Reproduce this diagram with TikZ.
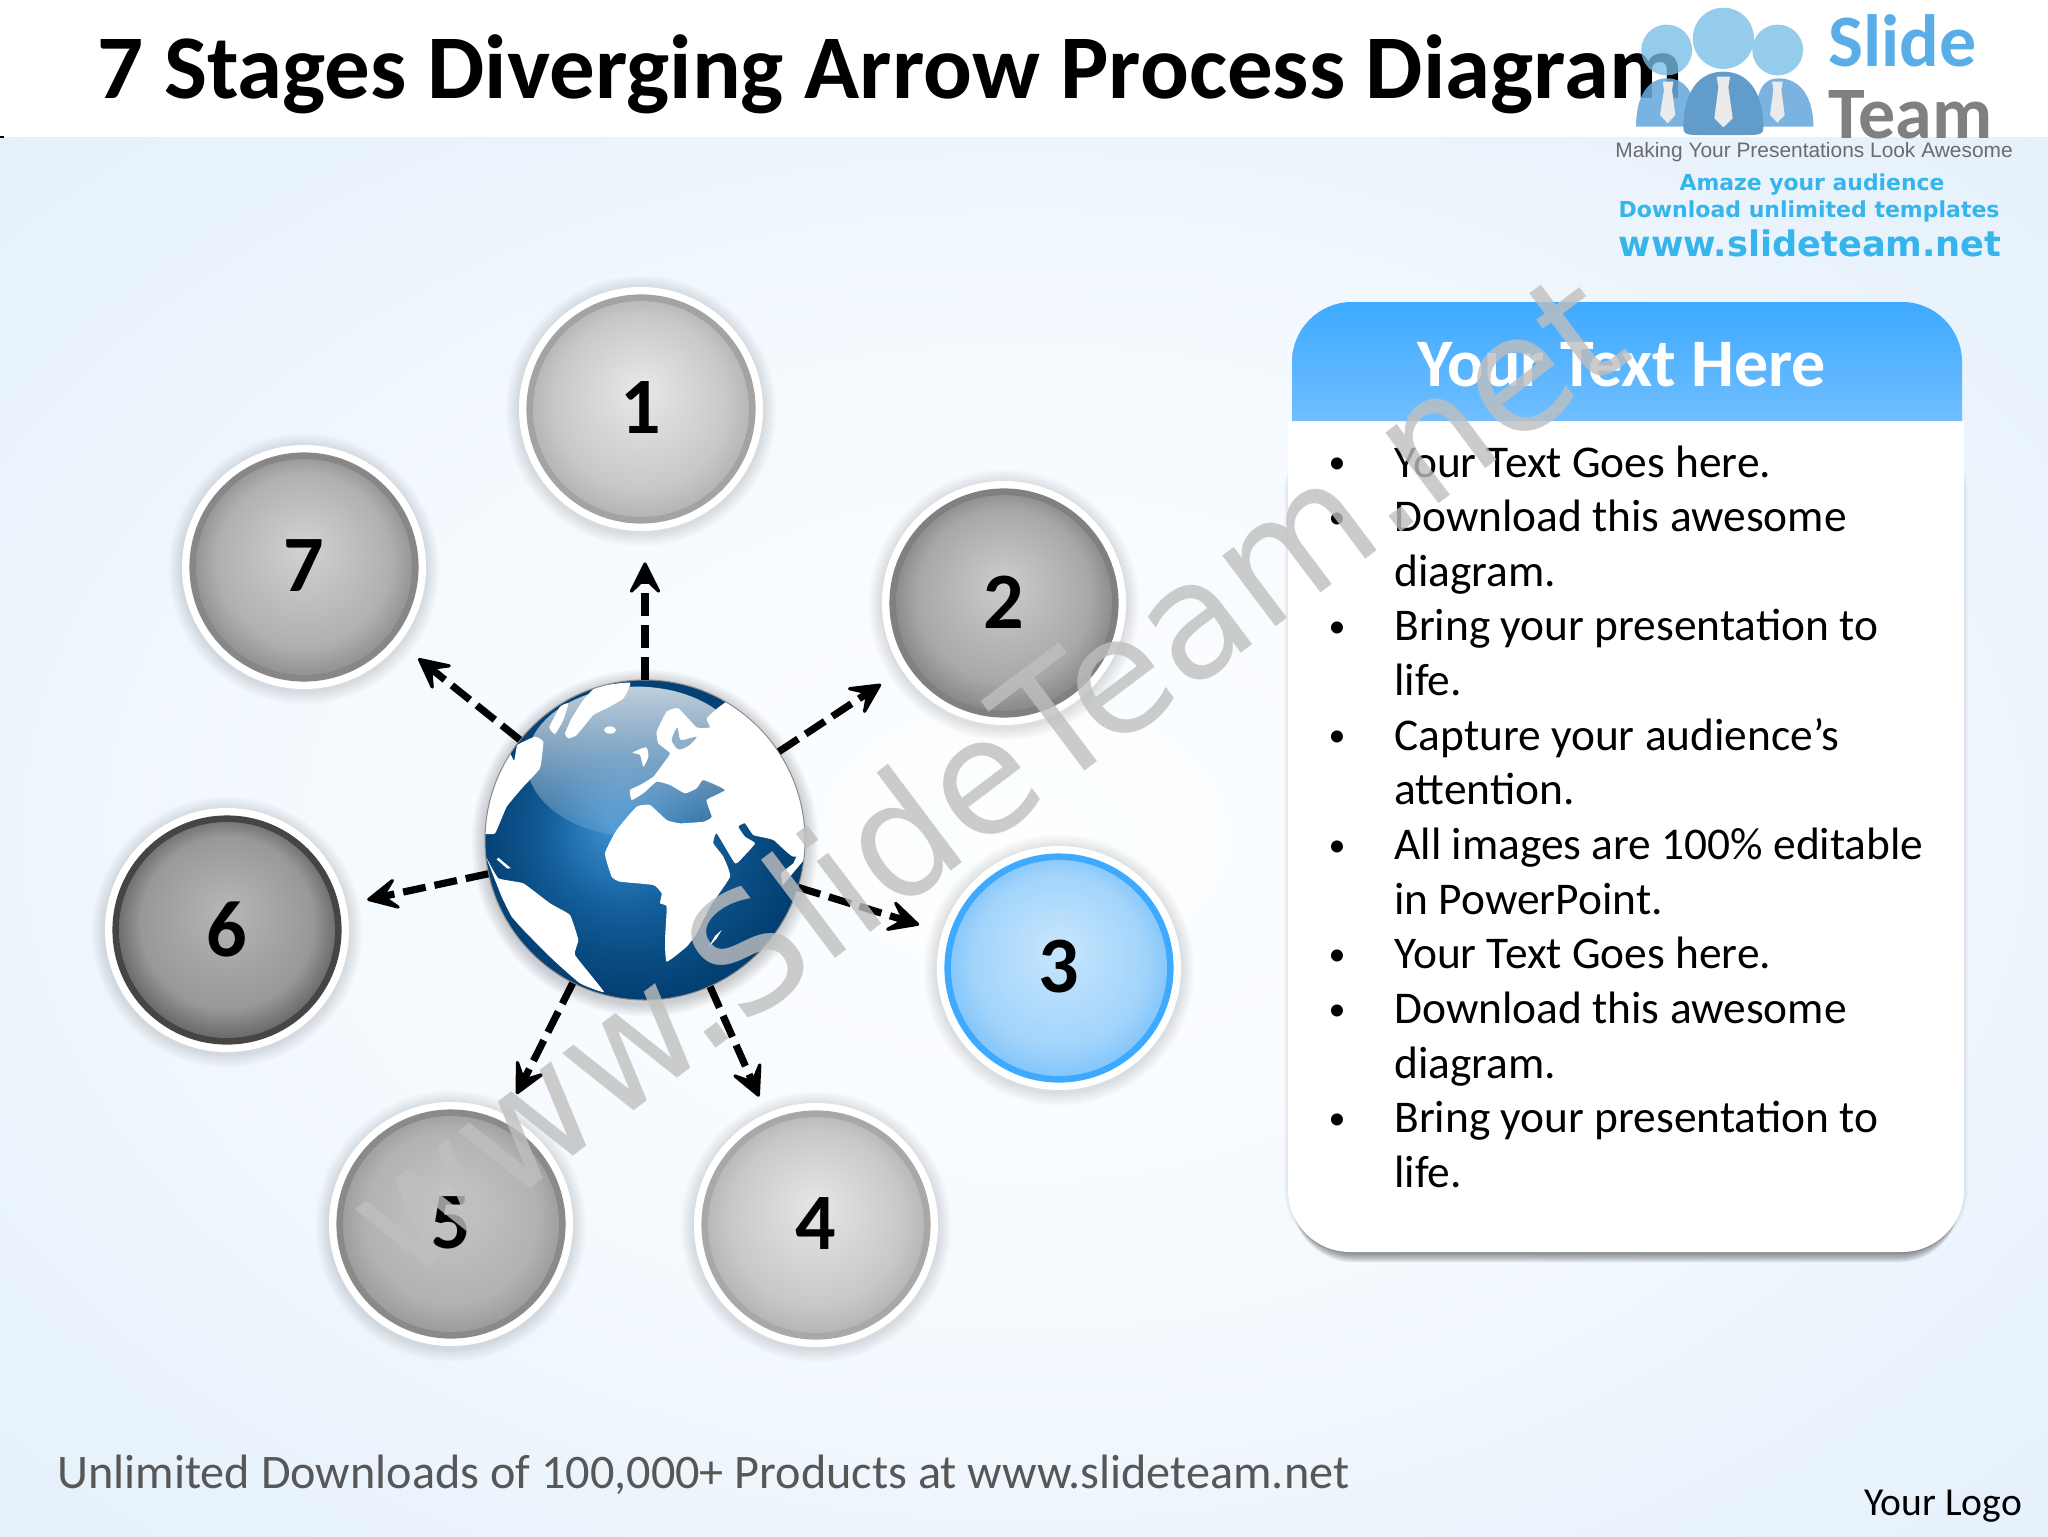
\documentclass[tikz,border=0pt]{standalone}
\usepackage{fontspec}
\usepackage{graphicx}
\setmainfont{Carlito}
\newfontfamily\djv{DejaVu Sans}
\newfontfamily\lib{Liberation Sans}
\usetikzlibrary{arrows.meta,fadings}
\newcommand{\fsz}[1]{\fontsize{#1}{#1}\selectfont}
\tikzfading[name=glossf, top color=transparent!25, bottom color=transparent!90]
\definecolor{bga}{HTML}{FCFEFF}\definecolor{bgb}{HTML}{F9FCFF}\definecolor{bgc}{HTML}{F3F9FE}\definecolor{bgd}{HTML}{EDF5FC}\definecolor{bge}{HTML}{E4F0FB}
\pgfdeclareradialshading{bgshade}{\pgfpoint{0bp}{0bp}}{color(0bp)=(bga);color(10bp)=(bgb);color(19bp)=(bgc);color(25bp)=(bgd);color(36bp)=(bge)}
\newcommand{\mkshade}[4]{%
 \definecolor{s#1a}{HTML}{#2}\definecolor{s#1b}{HTML}{#3}\definecolor{s#1c}{HTML}{#4}%
 \pgfdeclareradialshading{stage#1}{\pgfpoint{0bp}{5bp}}{color(0bp)=(s#1a);color(20bp)=(s#1b);color(30bp)=(s#1c)}}
\mkshade{1}{E8E8E8}{C8C8C8}{A6A6A6}
\mkshade{2}{CCCCCC}{A8A8A8}{727272}
\mkshade{3}{C8E6FD}{A2D4FB}{6DBBF9}
\mkshade{4}{E6E6E6}{C8C8C8}{A8A8A8}
\mkshade{5}{C6C6C6}{B2B2B2}{8C8C8C}
\mkshade{6}{B6B6B6}{989898}{474747}
\mkshade{7}{D2D2D2}{B0B0B0}{7C7C7C}
\definecolor{ga}{HTML}{3A8ED0}\definecolor{gb}{HTML}{2878B8}\definecolor{gc}{HTML}{145F9C}\definecolor{gd}{HTML}{0B4F86}\definecolor{ge}{HTML}{033F72}\definecolor{gf}{HTML}{003564}
\pgfdeclareradialshading{globesh}{\pgfpoint{-5bp}{2bp}}{color(0bp)=(ga);color(6bp)=(gb);color(12bp)=(gc);color(18bp)=(gd);color(25bp)=(ge);color(32bp)=(gf)}
\definecolor{hdtop}{HTML}{3EAAFF}\definecolor{hdbot}{HTML}{70BEFF}
\definecolor{logoblue}{HTML}{78BEE6}\definecolor{logobody}{HTML}{69A9DC}\definecolor{logotxt}{HTML}{5AAEE8}\definecolor{logocy}{HTML}{35B5EC}
\definecolor{balt}{HTML}{8FAFCB}
\definecolor{rima}{HTML}{A3A3A3}\definecolor{rimb}{HTML}{808080}\definecolor{rimd}{HTML}{A8A8A8}\definecolor{rime}{HTML}{8A8A8A}\definecolor{rimf}{HTML}{454545}\definecolor{rimg}{HTML}{878787}
\tikzset{
 stagedisc/.style={circle,fill=white,minimum size=122pt,inner sep=0pt},
 stagenum/.style={font=\fsz{40}\bfseries,inner sep=0pt,text=black},
 arr/.style={line width=3.6pt,dash pattern=on 11.5pt off 4.5pt,-{Stealth[length=19pt,width=19pt,inset=9pt,line width=1.6pt,round]},black},
 bodyline/.style={anchor=base west,inner sep=0pt,font=\fsz{22.7}},
 bulletmark/.style={anchor=base,inner sep=0pt,font=\fsz{17}},
 logohead/.style={fill=logoblue,fill opacity=.78},
 logobd/.style={fill=logobody,fill opacity=.88},
}
\newcommand{\stage}[5]{%
 \foreach \k in {1,...,6}{\fill[black,opacity=.018] (#2,#3+2) circle ({61pt+\k*1.1pt});}
 \node[stagedisc] (c#1) at (#2,#3) {};
 \fill[#4] (c#1.center) circle (57.3pt);
 \shade[shading=stage#1] (c#1.center) circle (54pt);
 \node[stagenum] (n#1) at (#2,#3-1) {#5};
}
\begin{document}
\begin{tikzpicture}[x=0.5pt,y=-0.5pt]
\useasboundingbox (0,0) rectangle (2048,1536);
\clip (0,0) rectangle (2048,1536);
% background
\shade[shading=bgshade] (0,137) rectangle (2048,1536);
\fill[white] (0,0) rectangle (2048,137);
\fill[black] (0,136) rectangle (4,138);
% title
\node[anchor=base west,inner sep=0pt,font=\fsz{45.5}\bfseries] (title) at (97,98) {7 Stages Diverging Arrow Process Diagram};
% logo
\begin{scope}[shift={(1550,0)},x=0.16667pt,y=-0.16667pt]
 \fill[logohead] (350,150) circle (12.7pt);
 \fill[logohead] (683,150) circle (12.7pt);
 \fill[logohead] (520,115) circle (15.3pt);
 \fill[logobd] (258,380) .. controls (258,280) and (300,235) .. (350,235) .. controls (400,235) and (440,270) .. (440,380) -- cycle;
 \fill[logobd] (615,380) .. controls (615,270) and (640,235) .. (685,235) .. controls (750,235) and (790,290) .. (790,380) -- cycle;
 \fill[logobody!92!black] (400,385) .. controls (400,270) and (450,215) .. (520,215) .. controls (590,215) and (640,270) .. (640,385) .. controls (640,400) and (630,405) .. (600,405) -- (440,405) .. controls (410,405) and (400,400) .. cycle;
 \fill[white!92!black] (500,230) -- (540,230) -- (535,262) -- (548,355) -- (520,382) -- (493,355) -- (505,262) -- cycle;
 \fill[white!92!black] (338,245) -- (370,245) -- (366,270) -- (376,345) -- (353,370) -- (330,345) -- (342,270) -- cycle;
 \fill[white!92!black] (666,245) -- (698,245) -- (694,270) -- (704,345) -- (682,368) -- (660,345) -- (670,270) -- cycle;
\end{scope}
\node[anchor=base west,inner sep=0pt,text=logotxt,font=\fsz{37}\bfseries] (lgslide) at (1828,67) {Slide};
\node[anchor=base west,inner sep=0pt,text=black!50,font=\fsz{37}\bfseries] (lgteam) at (1828,138) {Team};
\node[anchor=base,inner sep=0pt,text=black!58,font=\lib\fsz{10.45}] (lgmake) at (1814,157) {Making Your Presentations Look Awesome};
\node[anchor=base,inner sep=0pt,text=logocy,font=\djv\fsz{10.95}\bfseries] (lgamaze) at (1812,190) {Amaze your audience};
\node[anchor=base,inner sep=0pt,text=logocy,font=\djv\fsz{11}\bfseries] (lgdown) at (1809,217) {Download unlimited templates};
\node[anchor=base,inner sep=0pt,text=logocy,font=\djv\fsz{17.6}\bfseries] (lgurl) at (1810,256) {www.slideteam.net};
% stages
\stage{1}{641}{409}{rima}{1}
\stage{2}{1004}{603}{rimb}{2}
\stage{3}{1059}{968}{hdtop}{3}
\stage{4}{816}{1225}{rimd}{4}
\stage{5}{451}{1224}{rime}{5}
\stage{6}{227}{930}{rimf}{6}
\stage{7}{304}{567}{rimg}{7}
% globe
\foreach \k in {1,...,6}{\fill[black,opacity=.03] (645,843) circle ({80pt+\k*1.1pt});}
\node[circle,minimum size=160pt,inner sep=0pt,fill=white] (globe) at (645,840) {};
\begin{scope}[shift={(440,640)},x=0.16667pt,y=-0.16667pt]
 \begin{scope}
 \clip (615,600) circle (80pt);
 \shade[shading=globesh] (615,600) circle (80pt);
 \fill[white,path fading=glossf] (590,365) ellipse (55pt and 37.5pt);
 % Eurasia + Africa
 \fill[white] plot[smooth cycle,tension=.25] coordinates {(845,195) (800,235) (810,262) (770,262) (715,205) (680,215) (650,275) (655,310) (690,340) (670,370) (640,410) (600,435) (570,450) (575,480) (610,460) (650,425) (690,435) (735,460) (770,445) (790,420) (855,450) (800,480) (815,530) (790,545) (720,550) (680,540) (630,495) (590,500) (530,570) (495,640) (515,710) (540,725) (640,735) (665,760) (660,790) (680,800) (675,900) (680,965) (740,920) (770,880) (810,800) (870,710) (850,650) (820,610) (830,580) (885,670) (910,650) (945,610) (915,590) (895,560) (915,550) (940,585) (1000,600) (1060,650) (1150,620) (1200,300) (1000,100)};
 % Baltic
 \fill[balt] plot[smooth cycle,tension=.4] coordinates {(712,262) (722,300) (770,290) (745,318) (715,328) (695,300)};
 % Greenland / Arctic
 \fill[white] plot[smooth cycle,tension=.25] coordinates {(470,140) (570,128) (550,175) (500,205) (460,225) (410,285) (385,295) (375,280) (395,235) (430,180)};
 \fill[white] plot[smooth cycle,tension=.25] coordinates {(385,190) (370,240) (345,282) (328,262) (360,200)};
 % North America
 \fill[white] plot[smooth cycle,tension=.2] coordinates {(222,362) (232,315) (285,290) (310,305) (300,385) (250,440) (200,500) (165,580) (120,575) (100,420) (190,310)};
 % Iceland, Ireland
 \fill[white] (510,270) ellipse (3pt and 1.8pt);
 \fill[white] plot[smooth cycle,tension=.4] coordinates {(578,338) (618,322) (625,350) (610,380) (600,345)};
 % South America
 \fill[white] plot[smooth cycle,tension=.2] coordinates {(140,655) (175,715) (250,730) (330,790) (390,825) (415,900) (405,945) (492,1056) (420,1030) (340,960) (260,880) (215,830) (185,770)};
 % slivers
 \fill[white] (175,653) -- (212,684) -- (202,686) -- (170,658) -- cycle;
 \fill[white] (845,870) -- (830,895) -- (805,922) -- (825,888) -- cycle;
 \fill[white] (1082,620) -- (1100,650) -- (1028,736) -- (1022,700) -- (1060,670) -- cycle;
 \end{scope}
 \draw[black!45,line width=.5pt] (615,600) circle (80pt);
\end{scope}
% connectors
\draw[arr,shorten >=15.5pt] (globe.north) -- (globe.north |- c1.south);
\draw[arr,shorten >=12.5pt] (globe) -- (c2);
\draw[arr,shorten >=12pt] (globe) -- (c3);
\draw[arr,shorten >=9pt] (globe) -- (c4);
\draw[arr,shorten >=11.5pt] (globe) -- (c5);
\draw[arr,shorten >=10.5pt] (globe) -- (c6);
\draw[arr,shorten >=12pt] (globe) -- (c7);
% panel
\foreach \k in {1,...,6}{
 \fill[black,opacity=.085,rounded corners=31pt] (1292,{440+\k*2}) rectangle (1960,{1252+\k*1.7});}
\foreach \k in {1,...,4}{
 \fill[black,opacity=.018,rounded corners=31pt] ({1288-\k},430) rectangle ({1964+\k},1252);}
\fill[white] (1288,421) -- (1964,421) {[rounded corners=31pt] -- (1964,1252) -- (1288,1252)} -- cycle;
\shade[top color=hdtop,bottom color=hdbot] (1292,421) [rounded corners=30pt] -- (1292,302) -- (1962,302) [sharp corners] -- (1962,421) -- cycle;
\node[anchor=base,inner sep=0pt,text=white,font=\fsz{34}\bfseries] (hdr) at (1622,386) {Your Text Here};
\foreach \i/\t/\b in {0/Your Text Goes here./1,1/Download this awesome/1,2/diagram./0,3/Bring your presentation to/1,4/life./0,5/Capture your audience’s/1,6/attention./0,7/All images are 100\% editable/1,8/in PowerPoint./0,9/Your Text Goes here./1,10/Download this awesome/1,11/diagram./0,12/Bring your presentation to/1,13/life./0}{
 \node[bodyline] (ln\i) at (1394,{477+54.65*\i}) {\t};
 \ifnum\b=1 \node[bulletmark] (bl\i) at (1337,{473.5+54.65*\i}) {•};\fi
}
% footer
\node[anchor=base west,inner sep=0pt,text=black!66,font=\fsz{24.1}] (foot) at (57,1488) {Unlimited Downloads of 100,000+ Products at www.slideteam.net};
\node[anchor=base west,inner sep=0pt,font=\fsz{19.8}] (ylogo) at (1864,1515) {Your Logo};
% watermark
\node[rotate=37,inner sep=0pt,text=black!25,text opacity=.8,font=\djv\fsz{81}] (wm) at (983,772) {\scalebox{.98}[1]{www.SlideTeam.net}};
\end{tikzpicture}
\end{document}
